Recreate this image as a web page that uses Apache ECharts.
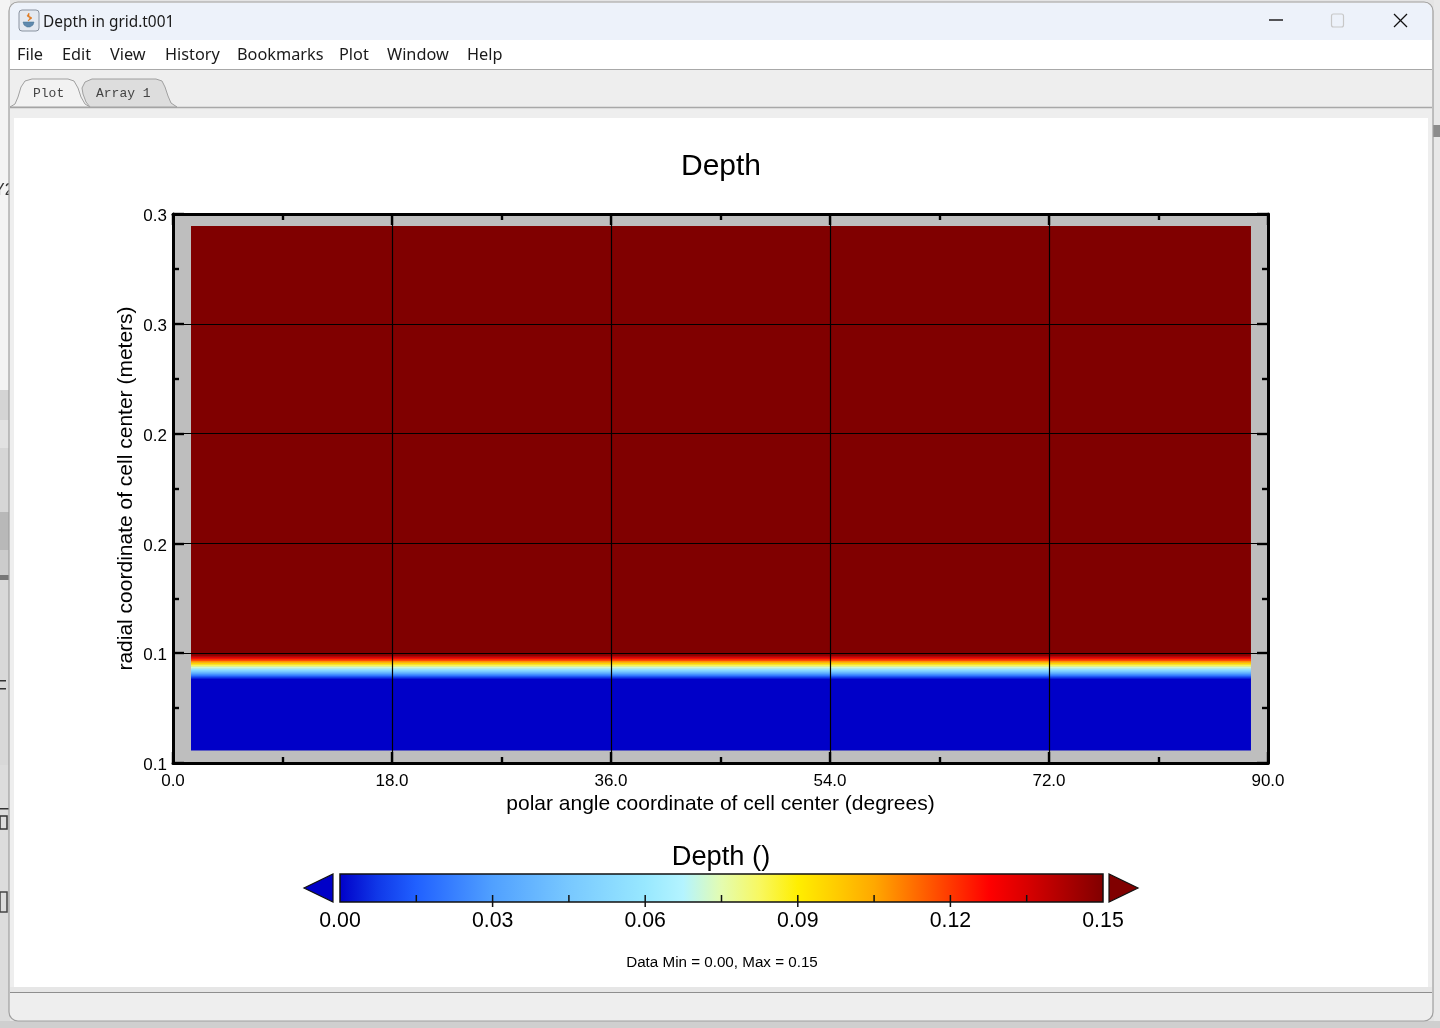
<!DOCTYPE html>
<html>
<head>
<meta charset="utf-8">
<title>Depth in grid.t001</title>
<script src="https://cdn.jsdelivr.net/npm/echarts@6/dist/echarts.min.js"></script>
<style>html,body{margin:0;padding:0;background:#dcdcdc}#c{width:1440px;height:1028px}</style>
</head>
<body>
<div id="c"></div>
<script>
// ---- data ----
const angleRange = [1.48, 88.6];
const radialEdges = [0.0559, 0.0887, 0.0896, 0.0905, 0.0914, 0.0923, 0.0932, 0.0941, 0.0950, 0.0959, 0.0968, 0.0977, 0.0986, 0.0996, 0.2945];
const depthValues = [0.000, 0.008, 0.021, 0.033, 0.046, 0.058, 0.071, 0.083, 0.096, 0.108, 0.121, 0.133, 0.146, 0.150];
const xTickLabels = ['0.0', '18.0', '36.0', '54.0', '72.0', '90.0'];
const yTickLabels = ['0.1', '0.1', '0.2', '0.2', '0.3', '0.3'];
const colorbarTickLabels = ['0.00', '0.03', '0.06', '0.09', '0.12', '0.15'];
const colorbarMajorTicks = [0.03, 0.06, 0.09, 0.12];
const colorbarMinorTicks = [0.015, 0.045, 0.075, 0.105, 0.135];
const colorRamp = ['#0000c8', '#1038e8', '#2060ff', '#3880ff', '#50a0ff', '#64b4ff', '#78c8ff', '#88d8ff', '#98e8ff', '#b4f4ff', '#e4fcb0',
  '#f8f860', '#ffee00', '#ffcc00', '#ffa800', '#ff7000', '#ff3800', '#ff0000', '#d80000', '#ac0000', '#800000'];
const menuItems = [['File', 17], ['Edit', 62], ['View', 110], ['History', 165], ['Bookmarks', 237], ['Plot', 339], ['Window', 387], ['Help', 467]];

const SANS = '"Liberation Sans", Arial, sans-serif';
const UI = '"Noto Sans", sans-serif';

// ---- window chrome ----
let zi = -200;
const nz = () => zi++;
const rect = (x, y, w, h, fill, extra) => Object.assign({ type: 'rect', z: nz(), silent: true, shape: { x, y, width: w, height: h }, style: { fill } }, extra || {});
const hline = (x1, y1, x2, y2, stroke, lw) => ({ type: 'line', z: nz(), silent: true, shape: { x1, y1, x2, y2 }, style: { stroke, lineWidth: lw || 1 } });
const poly = (points, fill, stroke, lw, smooth) => ({ type: 'polygon', z: nz(), silent: true, shape: { points, smooth: smooth || 0 }, style: { fill, stroke, lineWidth: lw || 1 } });
const text = (x, y, s, font, fill) => ({ type: 'text', z: nz(), silent: true, x, y, style: { text: s, font, fill: fill || '#000', verticalAlign: 'middle' } });

const chrome = [
  rect(0, 0, 1440, 1028, '#e4e4e4'),
  rect(0, 0, 10, 390, '#f4f4f4'),
  rect(0, 390, 10, 30, '#d4d4d4'),
  rect(0, 420, 10, 28, '#e2e2e2'),
  rect(0, 448, 10, 64, '#d6d6d6'),
  rect(0, 512, 10, 38, '#b8b8b8'),
  rect(0, 550, 10, 30, '#cccccc'),
  rect(0, 575, 9, 5, '#777777'),
  rect(0, 580, 10, 185, '#d8d8d8'),
  rect(0, 765, 10, 263, '#dcdcdc'),
  rect(0, 680, 6, 1.5, '#333'),
  rect(0, 688, 6, 1.5, '#333'),
  rect(0, 808, 9, 1.5, '#333'),
  rect(0, 816, 7, 13, 'none', { style: { fill: 'none', stroke: '#333', lineWidth: 1.5 } }),
  rect(0, 892, 7, 20, 'none', { style: { fill: 'none', stroke: '#444', lineWidth: 1.5 } }),
  text(-6, 191, 'Y2', '16px ' + SANS, '#333'),
  rect(1434, 0, 6, 1028, '#e8e8e8'),
  rect(1433, 125, 7, 12, '#8c8c8c'),
  rect(0, 1021, 1440, 7, '#cfcfcf'),
  rect(9, 2, 1424, 1019, '#eeeeee', { shape: { x: 9, y: 2, width: 1424, height: 1019, r: 9 }, style: { fill: '#eeeeee', stroke: '#a0a0a0', lineWidth: 1.2 } }),
  rect(10, 3, 1422, 37, '#edf2fa', { shape: { x: 10, y: 3, width: 1422, height: 37, r: [8, 8, 0, 0] } }),
  rect(10, 40, 1422, 29, '#ffffff'),
  hline(10, 69.5, 1432, 69.5, '#a8a8a8', 1.2),
  hline(10, 107.5, 1432, 107.5, '#a8a8a8', 1.6),
  rect(14, 118, 1414, 869, '#ffffff'),
  rect(10, 987, 1422, 5, '#e6e6e6'),
  hline(10, 992.5, 1432, 992.5, '#8e8e8e', 1.2),
  // title bar
  rect(19, 10, 20, 21, '#dfe7f0', { shape: { x: 19, y: 10, width: 20, height: 21, r: 3 }, style: { fill: '#e4e9f0', stroke: '#8a93a0', lineWidth: 1 } }),
  poly([[29, 13], [27, 16], [30, 18], [28, 21], [32, 18], [29, 16]], '#e07a20', '#e07a20', 0.6),
  poly([[23, 22], [34, 22], [33, 25], [30, 27], [27, 27], [24, 25]], '#5f89ad', '#46708f', 0.5),
  text(43, 22.5, 'Depth in grid.t001', '15.4px ' + UI, '#1a1a1a'),
  hline(1269, 20, 1283, 20, '#111', 1.4),
  rect(1331.5, 14, 12, 13, 'none', { shape: { x: 1331.5, y: 14, width: 12, height: 13, r: 2 }, style: { fill: 'none', stroke: '#c8c8c8', lineWidth: 1.2 } }),
  hline(1394, 14, 1407, 27, '#111', 1.3),
  hline(1407, 14, 1394, 27, '#111', 1.3),
  // tabs
  poly([[90, 107], [86, 102], [83, 94], [82, 88], [85, 82], [92, 79], [156, 79], [162, 81], [165, 87], [168, 96], [171, 103], [177, 107]], '#dddddd', '#a0a0a0', 1),
  poly([[10, 107], [15, 104], [18, 97], [21, 87], [25, 81], [32, 79], [68, 79], [74, 81], [78, 88], [81, 97], [85, 104], [90, 107]], '#f2f2f2', '#a0a0a0', 1),
  text(33, 94, 'Plot', '13px "Liberation Mono", monospace', '#444'),
  text(96, 94, 'Array 1', '13px "Liberation Mono", monospace', '#444'),
];
menuItems.forEach(m => chrome.push(text(m[1], 55.5, m[0], '16.3px ' + UI, '#1a1a1a')));

// ---- plot marks ----
const depthRows = depthValues.map((d, i) => [angleRange[0], angleRange[1], radialEdges[i], radialEdges[i + 1], d]);

const renderDepth = (params, api) => {
  const a = api.coord([api.value(0), api.value(3)]);
  const b = api.coord([api.value(1), api.value(2)]);
  return { type: 'rect', shape: { x: a[0], y: a[1], width: b[0] - a[0], height: b[1] - a[1] + 0.4 }, style: { fill: api.visual('color') } };
};
const renderBar = (params, api) => {
  const a = api.coord([0, 1]), b = api.coord([0.15, 0]);
  const stops = colorRamp.map((c, i) => ({ offset: i / (colorRamp.length - 1), color: c }));
  const mid = (a[1] + b[1]) / 2;
  return { type: 'group', children: [
    { type: 'rect', shape: { x: a[0], y: a[1], width: b[0] - a[0], height: b[1] - a[1] },
      style: { fill: new echarts.graphic.LinearGradient(0, 0, 1, 0, stops), stroke: '#111', lineWidth: 1.5 } },
    { type: 'polygon', shape: { points: [[a[0] - 7, a[1]], [a[0] - 7, b[1]], [a[0] - 36, mid]] }, style: { fill: colorRamp[0], stroke: '#111', lineWidth: 1.2 } },
    { type: 'polygon', shape: { points: [[b[0] + 6, a[1]], [b[0] + 6, b[1]], [b[0] + 35, mid]] }, style: { fill: colorRamp[colorRamp.length - 1], stroke: '#111', lineWidth: 1.2 } },
  ] };
};
const renderTick = (len) => (params, api) => {
  const p = api.coord([api.value(0), 0]);
  return { type: 'line', shape: { x1: p[0], y1: p[1] - 7, x2: p[0], y2: p[1] + len }, style: { stroke: '#111', lineWidth: 1.5 } };
};

const tick = { show: true, inside: true, length: 11, lineStyle: { color: '#000', width: 2.4 } };
const minor = { show: true, splitNumber: 2, length: 6, lineStyle: { color: '#000', width: 2.4 } };
const line = { show: true, onZero: false, lineStyle: { color: '#000', width: 3 } };
const grid = { show: true, lineStyle: { color: '#000', width: 1.2 } };

const option = {
  animation: false,
  backgroundColor: 'transparent',
  textStyle: { fontFamily: SANS },
  title: [
    { text: 'Depth', left: 716, top: 147, textAlign: 'center', textStyle: { fontFamily: SANS, fontSize: 30, fontWeight: 'normal', color: '#000' } },
    { text: 'Depth ()', left: 716, top: 839, textAlign: 'center', textStyle: { fontFamily: SANS, fontSize: 27.3, fontWeight: 'normal', color: '#000' } },
    { text: 'Data Min = 0.00, Max = 0.15', left: 717, top: 950, textAlign: 'center', textStyle: { fontFamily: SANS, fontSize: 15.2, fontWeight: 'normal', color: '#000' } },
  ],
  grid: [
    { left: 173, top: 214, width: 1095, height: 549, show: true, backgroundColor: '#bebebe', borderWidth: 0 },
    { left: 340, top: 874, width: 763, height: 28, show: false },
  ],
  xAxis: [
    { type: 'value', gridIndex: 0, position: 'bottom', min: 0, max: 90, interval: 18, z: 5, axisLine: line, axisTick: tick, minorTick: minor, splitLine: grid,
      name: 'polar angle coordinate of cell center (degrees)', nameLocation: 'middle', nameGap: 31, nameMoveOverlap: false, nameTextStyle: { fontFamily: SANS, fontSize: 21, color: '#000' },
      axisLabel: { fontFamily: SANS, fontSize: 17, color: '#000', margin: 10, formatter: (v, i) => xTickLabels[i] } },
    { type: 'value', gridIndex: 0, position: 'top', min: 0, max: 90, interval: 18, z: 5, axisLine: line, axisTick: tick, minorTick: minor, splitLine: { show: false }, axisLabel: { show: false } },
    { type: 'value', gridIndex: 1, position: 'bottom', min: 0, max: 0.15, interval: 0.03, axisLine: { show: false }, axisTick: { show: false }, splitLine: { show: false },
      axisLabel: { fontFamily: SANS, fontSize: 21.3, color: '#000', margin: 9, formatter: (v, i) => colorbarTickLabels[i] } },
  ],
  yAxis: [
    { type: 'value', gridIndex: 0, position: 'left', min: 0.05, max: 0.30, interval: 0.05, z: 5, axisLine: line, axisTick: tick, minorTick: minor, splitLine: grid,
      name: 'radial coordinate of cell center (meters)', nameLocation: 'middle', nameGap: 36, nameMoveOverlap: false, nameRotate: 90, nameTextStyle: { fontFamily: SANS, fontSize: 21, color: '#000' },
      axisLabel: { fontFamily: SANS, fontSize: 17, color: '#000', margin: 6, verticalAlign: 'top', lineHeight: 5, formatter: (v, i) => yTickLabels[i] } },
    { type: 'value', gridIndex: 0, position: 'right', min: 0.05, max: 0.30, interval: 0.05, z: 5, axisLine: line, axisTick: tick, minorTick: minor, splitLine: { show: false }, axisLabel: { show: false } },
    { type: 'value', gridIndex: 1, min: 0, max: 1, show: false },
  ],
  visualMap: { show: false, seriesIndex: 0, dimension: 4, min: 0, max: 0.15, inRange: { color: colorRamp } },
  series: [
    { type: 'custom', name: 'Depth', coordinateSystem: 'cartesian2d', xAxisIndex: 0, yAxisIndex: 0, z: 2, clip: false, silent: true,
      encode: { x: [0, 1], y: [2, 3] }, data: depthRows, renderItem: renderDepth },
    { type: 'custom', name: 'Colorbar', coordinateSystem: 'cartesian2d', xAxisIndex: 2, yAxisIndex: 2, z: 2, clip: false, silent: true,
      data: [[0, 0]], renderItem: renderBar },
    { type: 'custom', name: 'Major ticks', coordinateSystem: 'cartesian2d', xAxisIndex: 2, yAxisIndex: 2, z: 3, clip: false, silent: true,
      data: colorbarMajorTicks.map(v => [v, 0]), renderItem: renderTick(5) },
    { type: 'custom', name: 'Minor ticks', coordinateSystem: 'cartesian2d', xAxisIndex: 2, yAxisIndex: 2, z: 3, clip: false, silent: true,
      data: colorbarMinorTicks.map(v => [v, 0]), renderItem: renderTick(0) },
  ],
  graphic: { elements: chrome },
};
const chart = echarts.init(document.getElementById('c'), null, { renderer: 'canvas', width: 1440, height: 1028 });
chart.setOption(option);
</script>
</body>
</html>
